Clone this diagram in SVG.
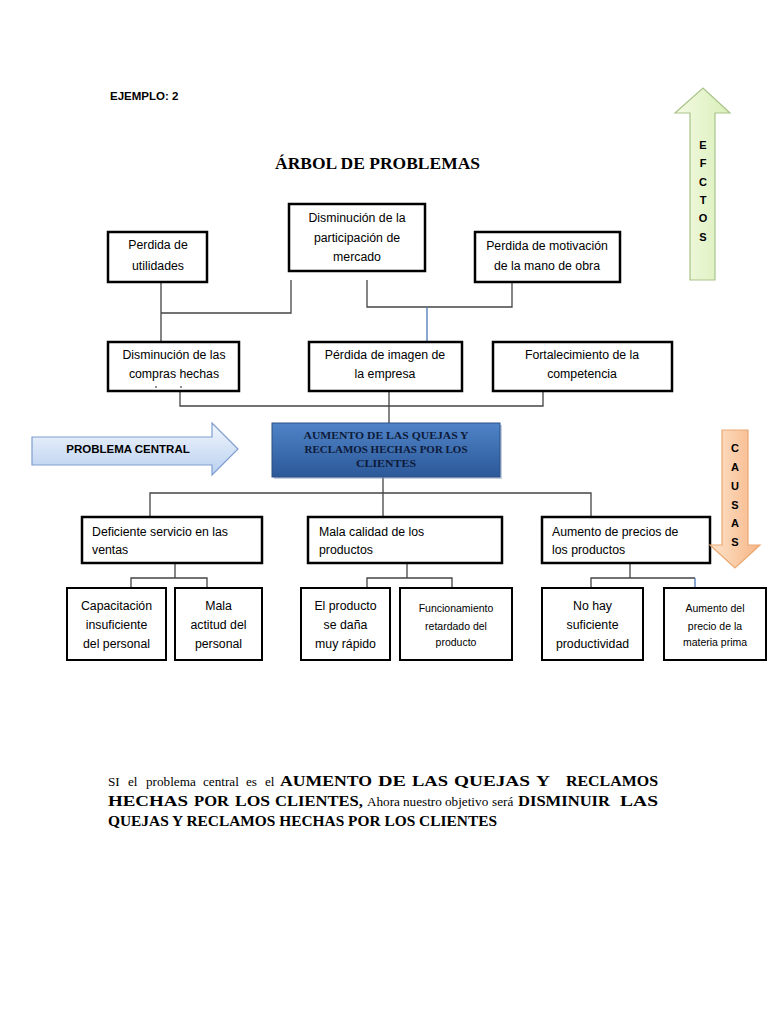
<svg xmlns="http://www.w3.org/2000/svg" width="768" height="1024" viewBox="0 0 768 1024">
<defs>
<linearGradient id="gBlue" x1="0" y1="0" x2="0" y2="1">
<stop offset="0" stop-color="#4f84c8"/><stop offset="1" stop-color="#2b5898"/>
</linearGradient>
<linearGradient id="gLight" x1="0" y1="0" x2="0" y2="1">
<stop offset="0" stop-color="#f2f6fd"/><stop offset="1" stop-color="#b9d0f0"/>
</linearGradient>
<linearGradient id="gGreen" x1="0" y1="0" x2="1" y2="0">
<stop offset="0" stop-color="#f4fae4"/><stop offset="1" stop-color="#d9efb8"/>
</linearGradient>
<linearGradient id="gOrange" x1="0" y1="0" x2="1" y2="0">
<stop offset="0" stop-color="#fde4cc"/><stop offset="1" stop-color="#f7b585"/>
</linearGradient>
</defs>
<style>
.box{fill:#fff;stroke:#000;stroke-width:2.5}
.box2{fill:#fff;stroke:#000;stroke-width:2}
.t{font-family:"Liberation Sans",Arial,sans-serif;font-size:12.3px;fill:#000}
.ts{font-family:"Liberation Sans",Arial,sans-serif;font-size:10.5px;fill:#000}
.c{text-anchor:middle}
.con{fill:none;stroke:#444;stroke-width:1.3}
.lbl{font-family:"Liberation Sans",Arial,sans-serif;font-weight:bold;font-size:11px;fill:#000;text-anchor:middle}
.p{font-family:"Liberation Serif","Times New Roman",serif;font-size:13.2px;fill:#000}
.pb{font-family:"Liberation Serif","Times New Roman",serif;font-size:15.5px;font-weight:bold;fill:#000}
</style>
<rect width="768" height="1024" fill="#fff"/>

<text x="110" y="100" style="font-family:'Liberation Sans',Arial,sans-serif;font-weight:bold;font-size:11.5px">EJEMPLO: 2</text>
<text x="275" y="169" textLength="205" lengthAdjust="spacingAndGlyphs" style="font-family:'Liberation Serif','Times New Roman',serif;font-weight:bold;font-size:17px">ÁRBOL DE PROBLEMAS</text>

<g id="connectors">
<path class="con" d="M161 282V342M161 313H291V280M367 280V307H512V281"/>
<path d="M427 307V342" stroke="#4a78b8" stroke-width="1.3" fill="none"/>
<path class="con" d="M180 391V406H543V391M389 391V424"/>
<path class="con" d="M383 477V517M150 517V493H591V517"/>
<path class="con" d="M175 563V578M131 588V578H207V588M407 563V578M367 588V578H452V588M630 563V578M591 588V578H695"/>
<path d="M695 578V588" stroke="#4a78b8" stroke-width="1.3" fill="none"/>
</g>

<g id="efectos">
<path d="M690 280V113H675L703 88L730 113H715V280Z" fill="url(#gGreen)" stroke="#a9c48a" stroke-width="1.2"/>
<text class="lbl" x="703" y="149">E</text>
<text class="lbl" x="703" y="167">F</text>
<text class="lbl" x="703" y="186">C</text>
<text class="lbl" x="703" y="204">T</text>
<text class="lbl" x="703" y="222">O</text>
<text class="lbl" x="703" y="241">S</text>
</g>

<g id="n1">
<rect class="box" x="108" y="232" width="99" height="50"/>
<text class="t c" x="158" y="249">Perdida de</text>
<text class="t c" x="158" y="270">utilidades</text>
</g>
<g id="n2">
<rect class="box" x="289" y="204" width="136" height="67"/>
<text class="t c" x="357" y="222">Disminución de la</text>
<text class="t c" x="357" y="242">participación de</text>
<text class="t c" x="357" y="261">mercado</text>
</g>
<g id="n3">
<rect class="box" x="475" y="232" width="145" height="50"/>
<text class="t c" x="547" y="250">Perdida de motivación</text>
<text class="t c" x="547" y="270">de la mano de obra</text>
</g>

<g id="n4">
<rect class="box" x="108" y="342" width="131" height="49"/>
<text class="t c" x="174" y="359">Disminución de las</text>
<text class="t c" x="174" y="378">compras hechas</text>
<circle cx="156" cy="387" r="0.8" fill="#000"/>
<circle cx="181" cy="387" r="0.8" fill="#000"/>
</g>
<g id="n5">
<rect class="box" x="309" y="342" width="153" height="49"/>
<text class="t c" x="385" y="359">Pérdida de imagen de</text>
<text class="t c" x="385" y="378">la empresa</text>
</g>
<g id="n6">
<rect class="box" x="493" y="342" width="179" height="49"/>
<text class="t c" x="582" y="359">Fortalecimiento de la</text>
<text class="t c" x="582" y="378">competencia</text>
</g>

<g id="problema-central">
<path d="M32 437H212V423L238 449L212 475V465H32Z" fill="url(#gLight)" stroke="#7f9fd0" stroke-width="1.2"/>
<text x="128" y="453" text-anchor="middle" style="font-family:'Liberation Sans',Arial,sans-serif;font-weight:bold;font-size:11.5px">PROBLEMA CENTRAL</text>
</g>

<g id="central">
<rect x="274" y="425" width="228" height="54" fill="#8aa0c0" opacity="0.5"/>
<rect x="272" y="423" width="228" height="54" fill="url(#gBlue)" stroke="#2a4f86" stroke-width="1"/>
<g style="font-family:'Liberation Serif','Times New Roman',serif;font-weight:bold;font-size:10.5px;fill:#0e1a3a" text-anchor="middle">
<text x="386" y="439" textLength="165" lengthAdjust="spacingAndGlyphs">AUMENTO DE LAS QUEJAS Y</text>
<text x="386" y="453" textLength="163" lengthAdjust="spacingAndGlyphs">RECLAMOS HECHAS POR LOS</text>
<text x="386" y="467" textLength="60" lengthAdjust="spacingAndGlyphs">CLIENTES</text>
</g>
</g>

<g id="n7">
<rect class="box" x="82" y="517" width="180" height="46"/>
<text class="t" x="92" y="536">Deficiente servicio en las</text>
<text class="t" x="92" y="554">ventas</text>
</g>
<g id="n8">
<rect class="box" x="308" y="517" width="194" height="46"/>
<text class="t" x="319" y="536">Mala calidad de los</text>
<text class="t" x="319" y="554">productos</text>
</g>
<g id="n9">
<rect class="box" x="542" y="517" width="168" height="46"/>
<text class="t" x="552" y="536">Aumento de precios de</text>
<text class="t" x="552" y="554">los productos</text>
</g>

<g id="causas">
<path d="M722 430H748V545H760L735 568L710 545H722Z" fill="url(#gOrange)" stroke="#eaa872" stroke-width="1.2"/>
<text class="lbl" x="735" y="452">C</text>
<text class="lbl" x="735" y="471">A</text>
<text class="lbl" x="735" y="490">U</text>
<text class="lbl" x="735" y="509">S</text>
<text class="lbl" x="735" y="527">A</text>
<text class="lbl" x="735" y="546">S</text>
</g>

<g id="n10">
<rect class="box2" x="67" y="588" width="99" height="72"/>
<text class="t c" x="116.5" y="610">Capacitación</text>
<text class="t c" x="116.5" y="629">insuficiente</text>
<text class="t c" x="116.5" y="648">del personal</text>
</g>
<g id="n11">
<rect class="box2" x="175" y="588" width="87" height="72"/>
<text class="t c" x="218.5" y="610">Mala</text>
<text class="t c" x="218.5" y="629">actitud del</text>
<text class="t c" x="218.5" y="648">personal</text>
</g>
<g id="n12">
<rect class="box2" x="301" y="588" width="89" height="72"/>
<text class="t c" x="345.5" y="610">El producto</text>
<text class="t c" x="345.5" y="629">se daña</text>
<text class="t c" x="345.5" y="648">muy rápido</text>
</g>
<g id="n13">
<rect class="box2" x="400" y="588" width="112" height="72"/>
<text class="ts c" x="456" y="611.5">Funcionamiento</text>
<text class="ts c" x="456" y="629.5">retardado del</text>
<text class="ts c" x="456" y="645.5">producto</text>
</g>
<g id="n14">
<rect class="box2" x="542" y="588" width="101" height="72"/>
<text class="t c" x="592.5" y="610">No hay</text>
<text class="t c" x="592.5" y="629">suficiente</text>
<text class="t c" x="592.5" y="648">productividad</text>
</g>
<g id="n15">
<rect class="box2" x="664" y="588" width="102" height="72"/>
<text class="ts c" x="715" y="611.5">Aumento del</text>
<text class="ts c" x="715" y="629.5">precio de la</text>
<text class="ts c" x="715" y="646">materia prima</text>
</g>

<g id="paragraph">
<text class="p" x="108" y="786">SI</text>
<text class="p" x="128" y="786">el</text>
<text class="p" x="146" y="786">problema</text>
<text class="p" x="203" y="786">central</text>
<text class="p" x="246" y="786">es</text>
<text class="p" x="265" y="786">el</text>
<text class="pb" x="280" y="786" textLength="92" lengthAdjust="spacingAndGlyphs">AUMENTO</text>
<text class="pb" x="378" y="786" textLength="28" lengthAdjust="spacingAndGlyphs">DE</text>
<text class="pb" x="412" y="786" textLength="36" lengthAdjust="spacingAndGlyphs">LAS</text>
<text class="pb" x="454" y="786" textLength="76" lengthAdjust="spacingAndGlyphs">QUEJAS</text>
<text class="pb" x="536" y="786" textLength="14" lengthAdjust="spacingAndGlyphs">Y</text>
<text class="pb" x="566" y="786" textLength="92" lengthAdjust="spacingAndGlyphs">RECLAMOS</text>

<text class="pb" x="108" y="806" textLength="80" lengthAdjust="spacingAndGlyphs">HECHAS</text>
<text class="pb" x="194" y="806" textLength="35" lengthAdjust="spacingAndGlyphs">POR</text>
<text class="pb" x="235" y="806" textLength="35" lengthAdjust="spacingAndGlyphs">LOS</text>
<text class="pb" x="275" y="806" textLength="88" lengthAdjust="spacingAndGlyphs">CLIENTES,</text>
<text class="p" x="367" y="806">Ahora</text>
<text class="p" x="403" y="806">nuestro</text>
<text class="p" x="445" y="806">objetivo</text>
<text class="p" x="492" y="806">será</text>
<text class="pb" x="518" y="806" textLength="92" lengthAdjust="spacingAndGlyphs">DISMINUIR</text>
<text class="pb" x="620" y="806" textLength="38" lengthAdjust="spacingAndGlyphs">LAS</text>

<text class="pb" x="108" y="826" textLength="389" lengthAdjust="spacingAndGlyphs">QUEJAS Y RECLAMOS HECHAS POR LOS CLIENTES</text>
</g>
</svg>
